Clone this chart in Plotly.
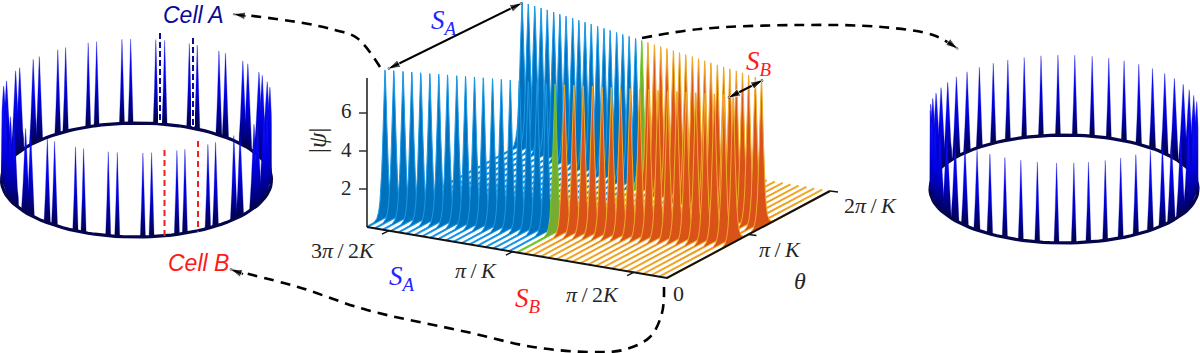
import math
import plotly.graph_objects as go

# ---------- centre waterfall: one ribbon per unit cell ----------
CELL_POS = [0.000,0.026,0.053,0.079,0.105,0.132,0.158,0.184,0.211,0.237,0.263,0.289,0.316,
            0.342,0.368,0.395,0.421,0.447,0.474,0.500,0.526,0.553,0.579,0.605,0.632,0.658,
            0.684,0.711,0.737,0.763,0.789,0.816,0.842,0.868,0.895,0.921,0.947,0.974,1.000]
FRONT_THETA = [.110,.116,.123,.129,.136,.142,.149,.155,.162,.168,.175,.181,.188,.194,.201,.207,.214,.220,.226,.233,
               .242,.251,.260,.269,.278,.287,.296,.305,.315,.324,.333,.342,.351,.360,.369,.378,.387,.396,.405]
BACK_THETA = [.951,.941,.931,.922,.912,.902,.892,.882,.873,.863,.853,.843,.833,.824,.814,.804,.794,.785,.775,.765,
              .755,.745,.736,.726,.716,.706,.696,.687,.677,.667,.657,.647,.638,.628,.618,.608,.598,.589,.579]
FRONT_AMP = [7.76,7.77,7.77,7.78,7.78,7.78,7.79,7.79,7.79,7.80,7.80,7.80,7.80,7.80,7.80,7.80,7.80,7.80,7.80,7.81,
             7.80,7.80,7.80,7.80,7.80,7.80,7.80,7.80,7.80,7.80,7.79,7.79,7.79,7.79,7.78,7.78,7.78,7.78,7.78]
BACK_AMP = [7.49,7.50,7.51,7.52,7.53,7.53,7.54,7.55,7.56,7.57,7.58,7.59,7.60,7.60,7.61,7.62,7.63,7.64,7.65,7.66,
            7.67,7.67,7.68,7.69,7.70,7.71,7.72,7.73,7.74,7.74,7.75,7.76,7.77,7.78,7.79,7.80,7.80,7.81,7.82]
CELL_GROUP = ["A"]*19 + ["G"] + ["B"]*19
PROFILE_OFFSET = [-.060,-.045,-.035,-.028,-.022,-.018,-.015,-.012,-.010,-.008,-.006,-.004,-.002,0,
                  .002,.004,.006,.008,.010,.012,.015,.018,.022,.028,.035,.045,.060]
PROFILE_VALUE = [.005,.022,.060,.122,.219,.322,.425,.552,.648,.750,.849,.925,.980,1,
                 .980,.925,.849,.750,.648,.552,.425,.322,.219,.122,.060,.022,.005]
# narrower version of the same peak for the rings, with a short foot
RING_OFFSET = [-.030,-.028,-.022,-.018,-.015,-.012,-.010,-.008,-.006,-.004,-.002,0,
               .002,.004,.006,.008,.010,.012,.015,.018,.022,.028,.030]
RING_VALUE = [0,.122,.219,.322,.425,.552,.648,.750,.849,.925,.980,1,
              .980,.925,.849,.750,.648,.552,.425,.322,.219,.122,0]
Z_TICKS = [2, 4, 6]
S_TICKS = [0.07, 0.483, 0.887]
THETA_TICKS = [0.5, 1.0]

# ---------- rings: angle of each peak (deg from the far point) ----------
LEFT_PEAKS = [8.2,12.0,23.0,26.7,37.6,41.2,51.9,55.5,65,68.6,75.4,81,
              -2.5,-6.2,-17.2,-21,-31.7,-35.7,-46.1,-50,-60,-63.7,-74.5,-80,
              177.3,173.6,162.6,159,148.1,144.2,133.9,130,119.6,116.6,109.5,105,
              -171.8,-167.9,-156.9,-153.1,-142.6,-138.6,-128.3,-124.7,-114.7,-111,-104,-99]
RIGHT_PEAKS = [-2.6,4.6,12.1,19.5,26.6,33.9,41.3,48.7,55.4,62.7,69,75.4,82,
               -9.9,-17.3,-24.8,-31.9,-39.2,-46.4,-53.5,-60.3,-66.7,-72.9,-78.6,-85,
               175.8,-176.8,169.5,162.1,155,147.6,139.9,132.8,126.8,119.5,112,105,98,
               -168.5,-161.2,-153.8,-146.4,-139.5,-132.3,-125.6,-118.9,-112.2,-106,-100,-94]
LEFT_H, RIGHT_H = 84, 80

BLUE_FILL, BLUE_EDGE = "#0072BD", "#1C98E6"
ORANGE_FILL, ORANGE_EDGE = "#D95319", "#F0A92B"
GREEN_FILL, GREEN_EDGE = "#77AC30", "#74C82E"
INK = "#262626"
NAVY = "#05054d"
RED = "#ff1a1a"
LABEL_BLUE = "#2424ff"

fig = go.Figure()

O = (367, 227); SV = (300, 51); TV = (163, -87); ZS = 19

def proj(s, f, z=0):
    return O[0] + SV[0]*s + TV[0]*f, O[1] + SV[1]*s + TV[1]*f - ZS*z

def seg(x, y, color, width, dash=None, shape="linear"):
    fig.add_trace(go.Scatter(x=x, y=y, mode="lines", hoverinfo="skip",
                             line=dict(color=color, width=width, dash=dash, shape=shape)))

STY = {"A": (BLUE_FILL, BLUE_EDGE), "G": (GREEN_FILL, GREEN_EDGE), "B": (ORANGE_FILL, ORANGE_EDGE)}
W = 1.1
for s, f1, f2, a1, a2, g in zip(CELL_POS, FRONT_THETA, BACK_THETA, FRONT_AMP, BACK_AMP, CELL_GROUP):
    g0 = proj(s, 0); g1 = proj(s, 1)
    seg([g0[0], g1[0]], [g0[1], g1[1]], STY[g][1], 2)
    fs = [0.0] + [f1+o*W for o in PROFILE_OFFSET] + [f2+o*W for o in PROFILE_OFFSET] + [1.0]
    zs = [0.0] + [a1*v for v in PROFILE_VALUE] + [a2*v for v in PROFILE_VALUE] + [0.0]
    pts = [proj(s, f, z) for f, z in zip(fs, zs)]
    fig.add_trace(go.Scatter(x=[p[0] for p in pts], y=[p[1] for p in pts], mode="lines", fill="toself",
                             fillcolor=STY[g][0], line=dict(color=STY[g][1], width=1.0), hoverinfo="skip"))

top = proj(0, 0, 7.84)
seg([O[0], top[0]], [O[1], top[1]], INK, 1.6)
a = proj(0, 0); b = proj(1, 0); c = proj(1, 1)
seg([a[0], b[0], c[0]], [a[1], b[1], c[1]], "#111111", 2)
for z in Z_TICKS:
    p = proj(0, 0, z)
    seg([p[0]-8, p[0]], [p[1], p[1]], INK, 1.4)
for s in S_TICKS:
    p = proj(s, 0)
    seg([p[0]-6, p[0]+1], [p[1]+3.5, p[1]], "#111111", 1.4)
for f in THETA_TICKS:
    p = proj(1, f)
    seg([p[0], p[0]+8], [p[1], p[1]+1], "#111111", 1.4)

GRAD = [[0, "#03033f"], [0.2, "#00008a"], [0.5, "#0000e0"], [1, "#1414ff"]]

def ring(cx, cy, ra, rb, peaks, h):
    def pt(deg):
        t = math.radians(deg)
        return cx + ra*math.sin(t), cy - rb*math.cos(t)
    def peak(d):
        sn = math.sin(math.radians(d))
        k = 85 * (1 + 1.3*sn**4)
        side = 1 if abs(d) <= 90 else -1
        x0 = pt(d)[0]
        xs, ys = [], []
        for o, v in zip(RING_OFFSET, RING_VALUE):
            x = min(cx + ra, max(cx - ra, x0 + o*k))
            xs.append(x)
            ys.append(cy - side*rb*math.sqrt(max(0, 1 - ((x-cx)/ra)**2)) - h*v)
        fig.add_trace(go.Scatter(x=xs, y=ys, mode="lines", fill="toself",
                                 line=dict(width=0.5, color="rgba(0,0,200,0.55)"), hoverinfo="skip",
                                 fillgradient=dict(type="vertical", colorscale=GRAD)))
    back = sorted([d for d in peaks if abs(d) <= 90], key=lambda d: abs(d))
    front = sorted([d for d in peaks if abs(d) > 90], key=lambda d: abs(d))
    for d in back:
        peak(d)
    arc = [pt(d) for d in range(-90, 91, 3)]
    seg([p[0] for p in arc], [p[1] for p in arc], NAVY, 3.2)
    for d in front:
        peak(d)
    arc = [pt(d) for d in range(90, 271, 3)]
    seg([p[0] for p in arc], [p[1] for p in arc], NAVY, 3.2)

ring(136.5, 180, 135, 57, LEFT_PEAKS, LEFT_H)
ring(1064, 189, 134, 54, RIGHT_PEAKS, RIGHT_H)

for x, y0, y1 in [(160, 33, 123), (193, 38, 126)]:
    seg([x, x], [y0, y1], "white", 4)
    seg([x, x], [y0, y1], "#0a0a96", 2, dash="6px,3px")
for x, y0, y1 in [(164.5, 150, 239), (198, 141, 232)]:
    seg([x, x], [y0, y1], RED, 2, dash="6px,4px")

LINK1_X = [380, 357, 335, 303, 245]; LINK1_Y = [67, 38, 30, 23, 15]
LINK2_X = [642, 700, 800, 882, 933, 952]; LINK2_Y = [38, 29, 25, 27, 35, 45]
LINK3_X = [664, 662, 650, 623, 590, 533, 467, 367, 298, 240]; LINK3_Y = [287, 313, 337, 350, 352, 347, 332, 310, 287, 272]
for lx, ly in [(LINK1_X, LINK1_Y), (LINK2_X, LINK2_Y), (LINK3_X, LINK3_Y)]:
    seg(lx, ly, "black", 2.6, dash="10px,7px", shape="spline")

def arrow(x0, y0, x1, y1, both=False):
    seg([x0, x1], [y0, y1], "black", 2)
    fig.add_trace(go.Scatter(x=[x0, x1], y=[y0, y1], mode="markers", hoverinfo="skip",
                             marker=dict(symbol="arrow", size=[13 if both else 0, 13], color="black",
                                         angleref="previous")))
    if both:
        fig.add_trace(go.Scatter(x=[x1, x0], y=[y1, y0], mode="markers", hoverinfo="skip",
                                 marker=dict(symbol="arrow", size=[0, 13], color="black", angleref="previous")))

arrow(246, 16, 233, 14)
arrow(948, 42, 958, 49)
arrow(243, 274, 230, 269)
arrow(388, 69, 522, 3, both=True)
arrow(728, 98, 763, 80, both=True)

def label(x, y, text, size=21, color=INK, family="Liberation Serif", angle=0):
    fig.add_annotation(x=x, y=y, xref="x", yref="y", text=text, showarrow=False, textangle=angle,
                       font=dict(size=size, color=color, family=family))

T = "\u2009"
label(346, 111, "6", 21); label(346, 150, "4", 21); label(346, 188, "2", 21)
label(317, 140, "|<i>ψ</i>|", 25, angle=-90)
label(343, 250, f"3<i>π</i>{T}/{T}2<i>K</i>", 22)
label(476, 270, f"<i>π</i>{T}/{T}<i>K</i>", 22)
label(592, 294, f"<i>π</i>{T}/{T}2<i>K</i>", 22)
label(678, 293, "0", 22)
label(780, 249, f"<i>π</i>{T}/{T}<i>K</i>", 22)
label(870, 205, f"2<i>π</i>{T}/{T}<i>K</i>", 22)
label(800, 281, "<i>θ</i>", 24)
label(444, 22, "<i>S</i><sub><i>A</i></sub>", 27, LABEL_BLUE)
label(402, 278, "<i>S</i><sub><i>A</i></sub>", 27, LABEL_BLUE)
label(528, 300, "<i>S</i><sub><i>B</i></sub>", 27, RED)
label(759, 63, "<i>S</i><sub><i>B</i></sub>", 27, RED)
label(193, 15, "<i>Cell A</i>", 23, "#0a0a96", "Liberation Sans")
label(198, 263, "<i>Cell B</i>", 23, RED, "Liberation Sans")

fig.update_layout(width=1200, height=353, margin=dict(l=0, r=0, t=0, b=0), showlegend=False,
                  paper_bgcolor="white", plot_bgcolor="white",
                  xaxis=dict(range=[0, 1200], visible=False, fixedrange=True),
                  yaxis=dict(range=[353, 0], visible=False, fixedrange=True))
fig.write_html("out.html", config={"displayModeBar": False},
               post_script="document.body.style.margin='0';document.documentElement.style.overflow='hidden';")
